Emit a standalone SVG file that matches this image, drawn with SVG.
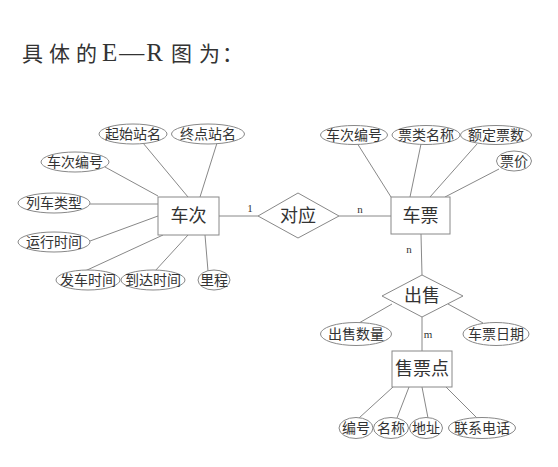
<svg xmlns="http://www.w3.org/2000/svg" width="558" height="467" viewBox="0 0 558 467">
<style>
text{font-family:"Liberation Serif","Noto Sans CJK SC",serif;fill:#333;text-anchor:middle;dominant-baseline:central}
.a{font-size:14px}
.b{font-size:18px}
.c{font-size:11px}
.t{font-size:21px;text-anchor:start;dominant-baseline:auto}
.e{font-size:25px;letter-spacing:2px;text-anchor:start;dominant-baseline:auto}
.n{fill:#fff;stroke:#888;stroke-width:1}
line{stroke:#888;stroke-width:1}
</style>
<g id="title">
<text class="t" x="22" y="61">具</text>
<text class="t" x="49" y="61">体</text>
<text class="t" x="76" y="61">的</text>
<text class="e" x="102" y="61">E—R</text>
<text class="t" x="171" y="61">图</text>
<text class="t" x="199" y="61">为</text>
<text class="t" x="222" y="61">：</text>
</g>
<g id="connectors">
<line x1="143" y1="143" x2="188" y2="197"/>
<line x1="217" y1="143" x2="200" y2="197"/>
<line x1="105" y1="167" x2="158" y2="196"/>
<line x1="90" y1="204" x2="158" y2="204"/>
<line x1="90" y1="241" x2="158" y2="216"/>
<line x1="85" y1="271" x2="163" y2="235"/>
<line x1="155" y1="271" x2="188" y2="235"/>
<line x1="208" y1="271" x2="205" y2="235"/>
<line x1="219" y1="216" x2="258" y2="216"/>
<line x1="339" y1="216" x2="391" y2="216"/>
<line x1="357" y1="143" x2="391" y2="197"/>
<line x1="421" y1="144" x2="410" y2="197"/>
<line x1="477" y1="144" x2="430" y2="197"/>
<line x1="499" y1="169" x2="445" y2="197"/>
<line x1="421" y1="234" x2="422" y2="275"/>
<line x1="359" y1="323" x2="392" y2="304"/>
<line x1="483" y1="323" x2="448" y2="304"/>
<line x1="422" y1="317" x2="422" y2="351"/>
<line x1="359" y1="418" x2="393" y2="387"/>
<line x1="397" y1="418" x2="409" y2="387"/>
<line x1="428" y1="418" x2="422" y2="387"/>
<line x1="477" y1="418" x2="446" y2="387"/>
<text class="c" x="250" y="208">1</text>
<text class="c" x="360" y="209">n</text>
<text class="c" x="409" y="249">n</text>
<text class="c" x="428" y="334">m</text>
</g>
<g id="checi"><rect class="n" x="158" y="197" width="61" height="38"/><text class="b" x="188.5" y="216">车次</text></g>
<g id="duiying"><polygon class="n" points="258,216 298,193 339,216 298,238"/><text class="b" x="298" y="216">对应</text></g>
<g id="chepiao"><rect class="n" x="391" y="197" width="59" height="37"/><text class="b" x="420.5" y="216">车票</text></g>
<g id="chushou"><polygon class="n" points="382,296 422,275 463,296 422,317"/><text class="b" x="422" y="296">出售</text></g>
<g id="shoupiaodian"><rect class="n" x="392" y="351" width="60" height="36"/><text class="b" x="422" y="369">售票点</text></g>
<g id="a1"><ellipse class="n" cx="133" cy="134" rx="34" ry="10"/><text class="a" x="133" y="134">起始站名</text></g>
<g id="a2"><ellipse class="n" cx="208" cy="134" rx="36.5" ry="10"/><text class="a" x="208" y="134">终点站名</text></g>
<g id="a3"><ellipse class="n" cx="75" cy="162" rx="34" ry="10"/><text class="a" x="75" y="162">车次编号</text></g>
<g id="a4"><ellipse class="n" cx="54" cy="203" rx="36" ry="10"/><text class="a" x="54" y="203">列车类型</text></g>
<g id="a5"><ellipse class="n" cx="54" cy="242" rx="36" ry="10"/><text class="a" x="54" y="242">运行时间</text></g>
<g id="a6"><ellipse class="n" cx="88" cy="280" rx="32" ry="10"/><text class="a" x="88" y="280">发车时间</text></g>
<g id="a7"><ellipse class="n" cx="153" cy="280" rx="32" ry="10"/><text class="a" x="153" y="280">到达时间</text></g>
<g id="a8"><ellipse class="n" cx="214" cy="280" rx="16" ry="10"/><text class="a" x="214" y="280">里程</text></g>
<g id="b1"><ellipse class="n" cx="354" cy="135" rx="33.5" ry="9.5"/><text class="a" x="354" y="135">车次编号</text></g>
<g id="b2"><ellipse class="n" cx="426" cy="135" rx="34" ry="9.5"/><text class="a" x="426" y="135">票类名称</text></g>
<g id="b3"><ellipse class="n" cx="496" cy="135" rx="35.5" ry="9.5"/><text class="a" x="496" y="135">额定票数</text></g>
<g id="b4"><ellipse class="n" cx="514" cy="161" rx="17.5" ry="10"/><text class="a" x="514" y="161">票价</text></g>
<g id="c1"><ellipse class="n" cx="356" cy="334" rx="35.5" ry="11.5"/><text class="a" x="356" y="334">出售数量</text></g>
<g id="c2"><ellipse class="n" cx="496" cy="334" rx="33" ry="11.5"/><text class="a" x="496" y="334">车票日期</text></g>
<g id="d1"><ellipse class="n" cx="356" cy="428" rx="17" ry="10.5"/><text class="a" x="356" y="428">编号</text></g>
<g id="d2"><ellipse class="n" cx="391" cy="428" rx="17.5" ry="10.5"/><text class="a" x="391" y="428">名称</text></g>
<g id="d3"><ellipse class="n" cx="426" cy="428" rx="16.5" ry="10.5"/><text class="a" x="426" y="428">地址</text></g>
<g id="d4"><ellipse class="n" cx="482" cy="428" rx="33.5" ry="10.5"/><text class="a" x="482" y="428">联系电话</text></g>
</svg>
